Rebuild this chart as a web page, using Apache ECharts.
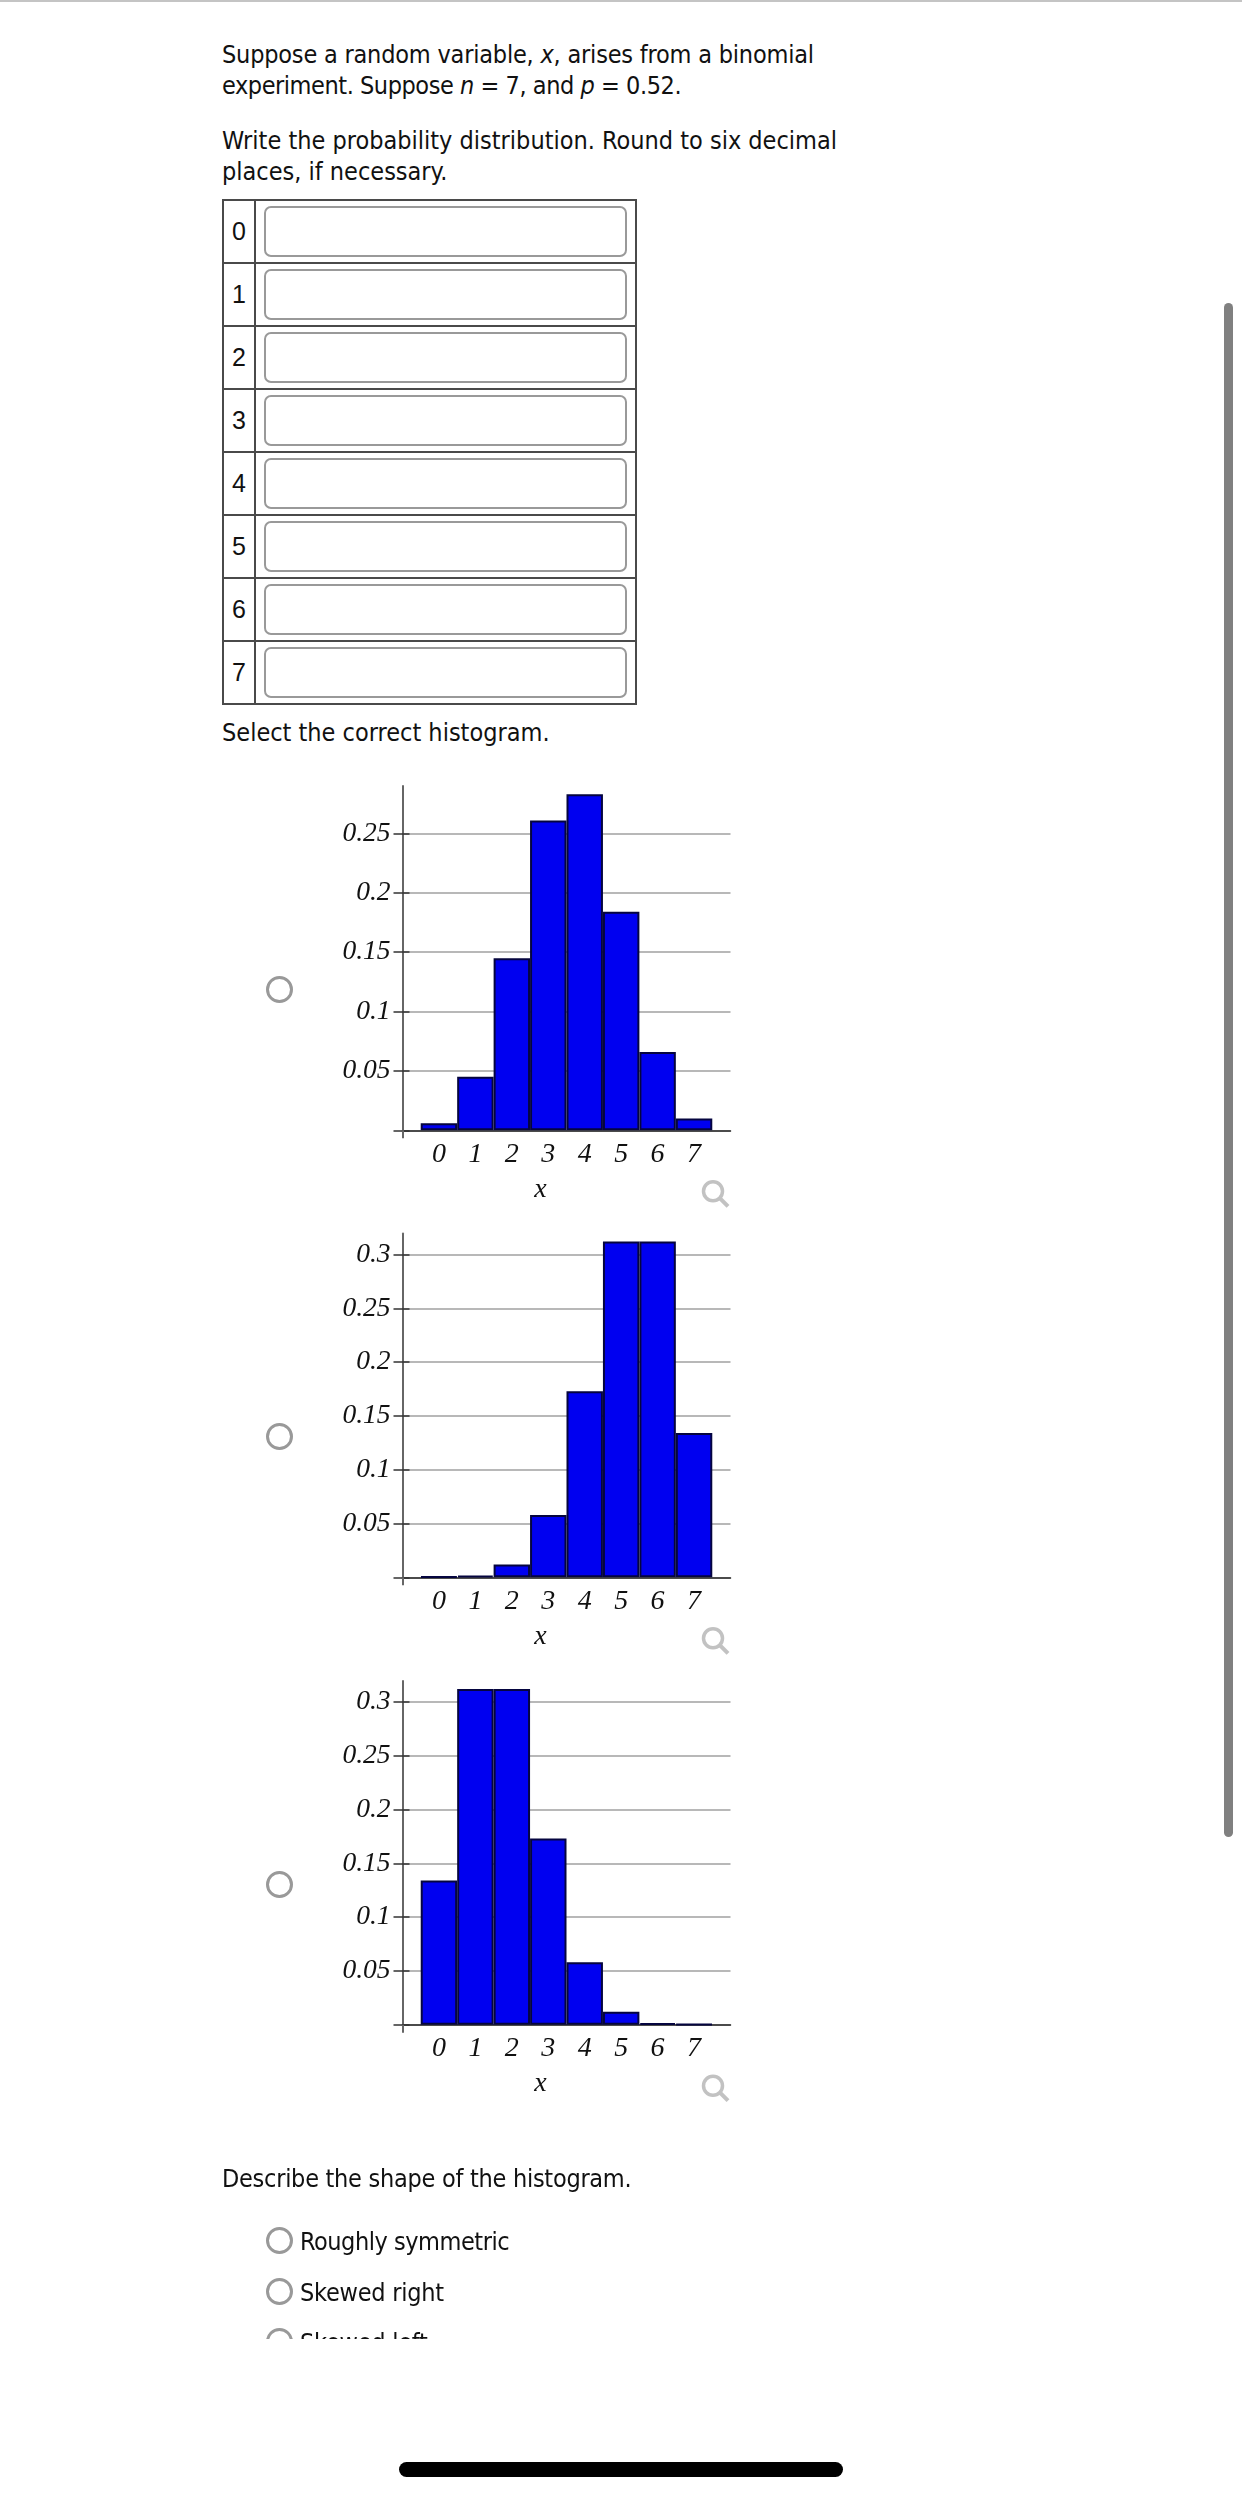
<!DOCTYPE html>
<html>
<head>
<meta charset="utf-8">
<style>
  html, body { margin: 0; padding: 0; background: #fff; }
  body { width: 1242px; height: 2501px; position: relative; overflow: hidden; font-family: "DejaVu Sans Condensed", "DejaVu Sans", sans-serif; font-size: 25px; color: #111; }
  .txt { position: absolute; left: 222px; line-height: 31px; white-space: nowrap; }
  .txt i { font-style: italic; }
  #topline { position: absolute; left: 0; top: 0; width: 1242px; height: 2px; background: #c4c4c4; }
  #scroll { position: absolute; left: 1224px; top: 303px; width: 9px; height: 1534px; border-radius: 5px; background: #808080; }
  #homebar { position: absolute; left: 399px; top: 2462px; width: 444px; height: 15px; border-radius: 8px; background: #000; }
  table { position: absolute; left: 222px; top: 199px; width: 415px; border-collapse: collapse; }
  td { border: 2px solid #4a4a4a; height: 61px; padding: 0; text-align: center; font-family: "Liberation Sans", sans-serif; font-size: 25px; }
  td.k { width: 30px; }
  .box { width: 363px; height: 51px; margin-left: 8px; border: 2px solid #999; border-radius: 7px; box-sizing: border-box; }
  .radio { position: absolute; width: 27px; height: 27px; box-sizing: border-box; border: 3px solid #999; border-radius: 50%; background: #fff; }
  #clip { position: absolute; left: 250px; top: 2320px; width: 300px; height: 19px; overflow: hidden; }
  #main { position: absolute; left: 0; top: 0; width: 1242px; height: 2501px; }
</style>
</head>
<body>
<div id="topline"></div>
<div class="txt" style="top:39px;letter-spacing:-0.2px">Suppose a random variable, <i>x</i>, arises from a binomial</div>
<div class="txt" style="top:70px;letter-spacing:-0.45px">experiment. Suppose <i>n</i> = 7, and <i>p</i> = 0.52.</div>
<div class="txt" style="top:125px">Write the probability distribution. Round to six decimal</div>
<div class="txt" style="top:156px">places, if necessary.</div>
<table id="tbl"></table>
<div class="txt" style="top:717px">Select the correct histogram.</div>
<div id="main"></div>
<div class="txt" style="top:2163px;letter-spacing:-0.27px">Describe the shape of the histogram.</div>
<div class="radio" style="left:266px;top:2227px"></div>
<div class="txt" style="left:300px;top:2226px;letter-spacing:-0.47px">Roughly symmetric</div>
<div class="radio" style="left:266px;top:2278px"></div>
<div class="txt" style="left:300px;top:2277px;letter-spacing:-0.25px">Skewed right</div>
<div id="clip">
  <div class="radio" style="left:16px;top:8px"></div>
  <div class="txt" style="left:50px;top:7px;letter-spacing:-0.25px">Skewed left</div>
</div>
<div id="scroll"></div>
<div id="homebar"></div>
<script src="https://cdn.jsdelivr.net/npm/echarts@6/dist/echarts.min.js"></script>
<script>
// x values of the distribution
const xValues = [0, 1, 2, 3, 4, 5, 6, 7]

// bar heights
const hist1 = [0.006, 0.045, 0.145, 0.261, 0.283, 0.184, 0.066, 0.010]
const hist2 = [0.0005, 0.0015, 0.012, 0.058, 0.173, 0.312, 0.312, 0.134]
const hist3 = [0.134, 0.312, 0.312, 0.173, 0.058, 0.012, 0.0015, 0.0005]

// y tick labels
const ticks1 = [0, 0.05, 0.1, 0.15, 0.2, 0.25]
const ticks2 = [0, 0.05, 0.1, 0.15, 0.2, 0.25, 0.3]
const ticks3 = [0, 0.05, 0.1, 0.15, 0.2, 0.25, 0.3]

// top of each y axis, the axis line runs a bit past the last tick
const yTop1 = 0.29
const yTop2 = 0.3195
const yTop3 = 0.3195

// page furniture: radio buttons and the answer table
const radioCenters = [989, 1436, 1884]
let tbl = document.getElementById('tbl')
xValues.forEach(k => {
  let tr = document.createElement('tr')
  tr.innerHTML = '<td class="k">' + k + '</td><td><div class="box"></div></td>'
  tbl.appendChild(tr)
})
radioCenters.forEach(y => {
  let r = document.createElement('div')
  r.className = 'radio'
  r.style.left = '266px'
  r.style.top = (y - 13) + 'px'
  document.body.appendChild(r)
})

const serif = '"Liberation Serif", serif'
const layouts = [
  { top: 786, bottom: 1130.3, data: hist1, ticks: ticks1, max: yTop1 },
  { top: 1233.5, bottom: 1577.3, data: hist2, ticks: ticks2, max: yTop2 },
  { top: 1681, bottom: 2024.7, data: hist3, ticks: ticks3, max: yTop3 }
]

let grids = [], xAxes = [], yAxes = [], series = [], graphics = []
layouts.forEach((l, i) => {
  grids.push({ left: 402.5, width: 328, top: l.top, height: l.bottom - l.top })
  xAxes.push({
    type: 'value', gridIndex: i, min: -1, max: 8, interval: 1,
    name: 'x', nameLocation: 'middle', nameGap: 45,
    nameTextStyle: { fontFamily: serif, fontStyle: 'italic', fontSize: 28, color: '#111', padding: [0, 52, 0, 0] },
    splitLine: { show: false },
    axisLine: { onZero: false, lineStyle: { color: '#111', width: 1.5 } },
    axisTick: { customValues: [-1], length: 8, lineStyle: { color: '#666', width: 2 } },
    axisLabel: { customValues: xValues, margin: 10, fontFamily: serif, fontStyle: 'italic', fontSize: 28, color: '#111' }
  })
  // first y axis: line, outer ticks, labels, grid lines
  yAxes.push({
    type: 'value', gridIndex: i, min: 0, max: l.max, interval: 0.05,
    axisLine: { show: true, onZero: false, lineStyle: { color: '#666', width: 2 } },
    axisTick: { show: true, customValues: l.ticks, length: 9, lineStyle: { color: '#333', width: 1.5 } },
    axisLabel: {
      customValues: l.ticks.slice(1), margin: 12, padding: [6, 0, 0, 0],
      fontFamily: serif, fontStyle: 'italic', fontSize: 27.5, color: '#111',
      formatter: v => String(v)
    },
    splitLine: { show: true, showMinLine: false, showMaxLine: true, lineStyle: { color: '#a0a0a0', width: 1.5 } }
  })
  // second y axis on the same scale, only for the inner half of the ticks
  yAxes.push({
    type: 'value', gridIndex: i, min: 0, max: l.max, interval: 0.05, position: 'left',
    axisLine: { show: false, onZero: false },
    axisTick: { show: true, inside: true, customValues: l.ticks, length: 7, lineStyle: { color: '#333', width: 1.5 } },
    axisLabel: { show: false },
    splitLine: { show: false }
  })
  series.push({
    type: 'bar', xAxisIndex: i, yAxisIndex: i * 2, barWidth: '100%',
    data: l.data.map((v, k) => [xValues[k], v]),
    itemStyle: { color: '#0000f0', borderColor: '#05053f', borderWidth: 2 },
    animation: false, silent: true
  })
  // magnifier icon under each histogram
  graphics.push({
    type: 'group', left: 701, top: l.bottom + 49,
    children: [
      { type: 'circle', shape: { cx: 12, cy: 11, r: 9.5 }, style: { fill: 'none', stroke: '#c2c2c2', lineWidth: 3.5 } },
      { type: 'line', shape: { x1: 19, y1: 18, x2: 27, y2: 26 }, style: { stroke: '#c2c2c2', lineWidth: 4 } }
    ]
  })
})

let myChart = echarts.init(document.getElementById('main'), null, { renderer: 'canvas' })
let option = {
  animation: false,
  grid: grids,
  xAxis: xAxes,
  yAxis: yAxes,
  series: series,
  graphic: graphics
}
myChart.setOption(option)
</script>
</body>
</html>
